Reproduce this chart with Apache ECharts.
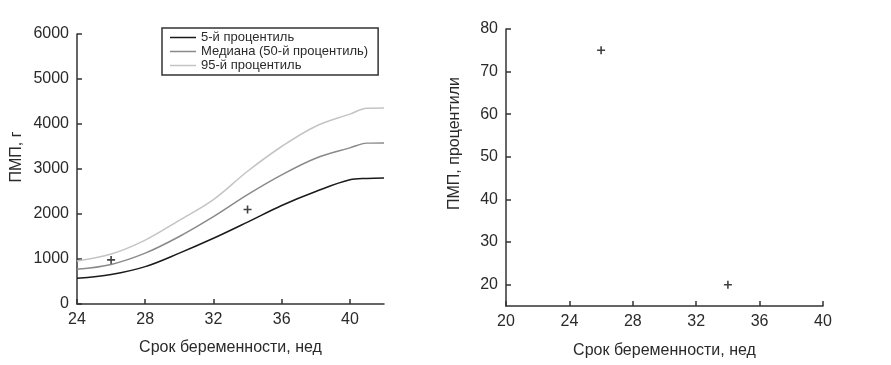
<!DOCTYPE html>
<html><head><meta charset="utf-8">
<script src="https://cdn.jsdelivr.net/npm/echarts@6/dist/echarts.min.js"></script>
<style>html,body{margin:0;padding:0;background:#fff}#c{width:891px;height:365px}</style>
</head><body><div id="c"></div>
<script>
const weeks = [24, 26, 28, 30, 32, 34, 36, 38, 40, 41, 42];
const p5 = [570, 655, 830, 1130, 1460, 1820, 2190, 2500, 2760, 2790, 2800];
const p50 = [770, 880, 1130, 1500, 1940, 2430, 2870, 3240, 3470, 3575, 3580];
const p95 = [955, 1110, 1420, 1860, 2320, 2950, 3500, 3950, 4220, 4350, 4355];
const weightPts = [[26, 980], [34, 2100]];
const pctPts = [[26, 75], [34, 20]];
const seriesNames = ['5-й процентиль', 'Медиана (50-й процентиль)', '95-й процентиль'];
const xTitle = 'Срок беременности, нед';
const yTitleL = 'ПМП, г';
const yTitleR = 'ПМП, процентили';

const plus = 'path://M4,0h2v4h4v2h-4v4h-2v-4h-4v-2h4z';
const axisCol = '#333';
const txtCol = '#2a2a2a';
const font = 'Liberation Sans, Arial, sans-serif';
const FS = 16;
function axBase(extra) {
  return Object.assign({
    type: 'value',
    axisLine: {lineStyle: {color: axisCol, width: 1.5}},
    axisTick: {inside: true, length: 5, lineStyle: {color: axisCol, width: 1.5}},
    axisLabel: {color: txtCol, fontSize: FS, fontFamily: font, formatter: v => String(v)},
    splitLine: {show: false},
    nameLocation: 'middle',
    nameTextStyle: {color: txtCol, fontSize: 16, fontFamily: font}
  }, extra);
}
const chart = echarts.init(document.getElementById('c'));
chart.setOption({
  animation: false,
  grid: [
    {left: 77, top: 34, width: 307, height: 270},
    {left: 506, top: 29, width: 317, height: 277}
  ],
  legend: {
    data: seriesNames, orient: 'vertical', left: 162, top: 28,
    itemWidth: 26, itemHeight: 1.5, icon: 'rect', itemGap: 1,
    padding: [3, 10, 3, 8], borderColor: '#333', borderWidth: 1.5,
    textStyle: {color: txtCol, fontSize: 13, fontFamily: font}
  },
  xAxis: [
    axBase({gridIndex: 0, min: 24, max: 42, interval: 4, name: xTitle, nameGap: 36,
      axisLabel: {color: txtCol, fontSize: FS, fontFamily: font, customValues: [24, 28, 32, 36, 40]},
      axisTick: {inside: true, length: 5, lineStyle: {color: axisCol, width: 1.5}, customValues: [24, 28, 32, 36, 40]}}),
    axBase({gridIndex: 1, min: 20, max: 40, interval: 4, name: xTitle, nameGap: 37})
  ],
  yAxis: [
    axBase({gridIndex: 0, min: 0, max: 6000, interval: 1000, name: yTitleL, nameGap: 52,
      nameTextStyle: {color: txtCol, fontSize: 16, fontFamily: font, padding: [0, 0, 0, 24]}}),
    axBase({gridIndex: 1, min: 15, max: 80, name: yTitleR, nameGap: 43,
      nameTextStyle: {color: txtCol, fontSize: 16, fontFamily: font, padding: [0, 0, 0, 48]},
      axisTick: {inside: true, length: 5, lineStyle: {color: axisCol, width: 1.5}, customValues: [20, 30, 40, 50, 60, 70, 80]},
      axisLabel: {color: txtCol, fontSize: FS, fontFamily: font, customValues: [20, 30, 40, 50, 60, 70, 80]}
    })
  ],
  series: [
    {name: seriesNames[0], type: 'line', xAxisIndex: 0, yAxisIndex: 0, smooth: 0.35, symbol: 'none',
      data: weeks.map((w, i) => [w, p5[i]]), lineStyle: {color: '#1a1a1a', width: 1.5}, itemStyle: {color: '#1a1a1a'}},
    {name: seriesNames[1], type: 'line', xAxisIndex: 0, yAxisIndex: 0, smooth: 0.35, symbol: 'none',
      data: weeks.map((w, i) => [w, p50[i]]), lineStyle: {color: '#8a8a8a', width: 1.5}, itemStyle: {color: '#8a8a8a'}},
    {name: seriesNames[2], type: 'line', xAxisIndex: 0, yAxisIndex: 0, smooth: 0.35, symbol: 'none',
      data: weeks.map((w, i) => [w, p95[i]]), lineStyle: {color: '#c4c4c4', width: 1.5}, itemStyle: {color: '#c4c4c4'}},
    {type: 'scatter', xAxisIndex: 0, yAxisIndex: 0, symbol: plus, symbolSize: 8,
      data: weightPts, itemStyle: {color: '#111'}},
    {type: 'scatter', xAxisIndex: 1, yAxisIndex: 1, symbol: plus, symbolSize: 8,
      data: pctPts, itemStyle: {color: '#111'}}
  ]
});
</script></body></html>
